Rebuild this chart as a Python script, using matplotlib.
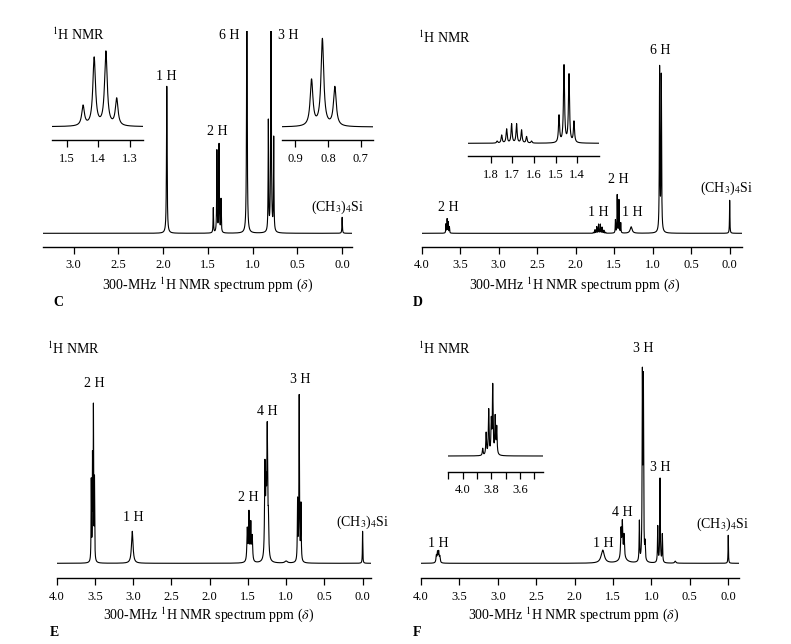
import numpy as np
import matplotlib
matplotlib.use("Agg")
import matplotlib.pyplot as plt

plt.rcParams["font.family"] = ["Liberation Serif", "DejaVu Serif"]
plt.rcParams["mathtext.fontset"] = "stix"

W, H = 791, 644

# peak lists: position (ppm), height, half width (ppm)
# C
c_pos = [1.96, 1.44, 1.40, 1.376, 1.354, 1.065, 0.825, 0.795, 0.765, 0.0]
c_hts = [147, 25, 82, 88, 33, 260, 110, 230, 93, 16]
c_wid = [0.004, 0.003, 0.003, 0.003, 0.003, 0.004, 0.003, 0.004, 0.003, 0.003]
c1_pos = [1.448, 1.413, 1.376, 1.342]
c1_hts = [20, 68, 74, 27]
c2_pos = [0.85, 0.817, 0.779]
c2_hts = [46, 87, 39]

# D
d_pos = [3.685, 3.67, 3.655, 3.64,
         1.77, 1.749, 1.726, 1.703, 1.68, 1.657, 1.634, 1.611,
         1.484, 1.461, 1.438, 1.415, 1.28, 0.91, 0.888, 0.0]
d_hts = [9, 14, 11, 6,
         1, 3.5, 6.5, 9, 9, 6, 3, 1,
         13, 38, 33, 10, 6.5, 163, 155, 33]
d_wid = [0.003] * 16 + [0.015, 0.004, 0.004, 0.003]
d1_pos = [1.77, 1.749, 1.726, 1.703, 1.68, 1.657, 1.634, 1.611,
          1.484, 1.461, 1.438, 1.415]
d1_hts = [2, 8, 14, 19, 19, 13, 6.5, 2, 27, 77, 68, 21]

# E
e_pos = [3.548, 3.532, 3.52, 3.506, 3.012,
         1.508, 1.486, 1.462, 1.443,
         1.277, 1.262, 1.247, 1.232,
         1.0, 0.85, 0.829, 0.806, 0.0]
e_hts = [80, 100, 150, 80, 32,
         32, 48, 37, 24,
         90, 60, 125, 35,
         2, 60, 165, 56, 32]
e_wid = [0.003, 0.003, 0.003, 0.003, 0.012,
         0.006, 0.006, 0.006, 0.006,
         0.006, 0.006, 0.006, 0.006,
         0.02, 0.004, 0.004, 0.004, 0.003]

# F
f_pos = [3.80, 3.785, 3.77, 3.755, 1.634,
         1.37, 1.396, 1.379, 1.357,
         1.157, 1.118, 1.105, 1.083,
         0.918, 0.888, 0.858, 0.69, 0.0]
f_hts = [7, 10, 10.5, 6, 13,
         5, 28, 34, 22,
         40, 180, 175, 16,
         36, 84, 28, 2, 28]
f_wid = [0.006, 0.006, 0.006, 0.006, 0.025,
         0.05, 0.006, 0.006, 0.006,
         0.004, 0.004, 0.004, 0.004,
         0.004, 0.004, 0.004, 0.01, 0.003]
f1_pos = [3.86, 3.836, 3.818, 3.80, 3.79, 3.773, 3.762]
f1_hts = [7, 22, 45, 32, 68, 37, 27]


def trace(x, pos, hts, wid):
    y = np.zeros_like(x)
    for p, h, w in zip(pos, hts, wid):
        y += h / (1 + ((x - p) / w) ** 2)
    return y


def box(l, r, t, b):
    return [l / W, 1 - b / H, (r - l) / W, (b - t) / H]


def panel(rect, xlim, ylim, ticks, pos, hts, wid, minor=None):
    ax = fig.add_axes(rect)
    ax.patch.set_alpha(0)
    x = np.linspace(xlim[0], xlim[1], 30000)
    ax.plot(x, trace(x, pos, hts, wid), color="black", lw=0.8)
    ax.set_xlim(xlim)
    ax.set_ylim(ylim)
    for s in ["left", "right", "top"]:
        ax.spines[s].set_visible(False)
    ax.spines["bottom"].set_linewidth(1.0)
    ax.set_yticks([])
    ax.set_xticks(ticks)
    ax.set_xticklabels([f"{t:.1f}" for t in ticks])
    if minor is not None:
        ax.set_xticks(minor, minor=True)
    ax.tick_params(axis="x", which="both", direction="out", length=5,
                   width=0.9, pad=4, labelsize=9)
    return ax


fig = plt.figure(figsize=(W / 100, H / 100), dpi=100, facecolor="white")

lab = dict(fontsize=10, ha="center", va="center")
tms = r"(CH$_3$)$_4$Si"
xlab = r"300-MHz $^1$H NMR spectrum ppm ($\delta$)"

# ---- C
ax = panel(box(43.3, 352, 31, 246.7), (3.34, -0.11), (-13.4, 202.3),
           [3.0, 2.5, 2.0, 1.5, 1.0, 0.5, 0.0], c_pos, c_hts, c_wid)
ax.text(1.96, 157, "1 H", **lab)
ax.text(1.40, 102, "2 H", **lab)
ax.text(1.15, 198, "6 H", fontsize=10, ha="right", va="center")
ax.text(0.72, 198, "3 H", fontsize=10, ha="left", va="center")
ax.text(0.047, 26, tms, **lab)
panel(box(52.3, 142.7, 40, 140), (1.545, 1.26), (-13.3, 86.7),
      [1.5, 1.4, 1.3], c1_pos, c1_hts, [0.005] * 4)
panel(box(282.3, 373.3, 30, 140), (0.939, 0.662), (-13, 97),
      [0.9, 0.8, 0.7], c2_pos, c2_hts, [0.005] * 3)

# ---- D
ax = panel(box(421.7, 742, 31, 246.7), (4.0, -0.16), (-13.4, 202.3),
           [4.0, 3.5, 3.0, 2.5, 2.0, 1.5, 1.0, 0.5, 0.0], d_pos, d_hts, d_wid)
ax.text(3.66, 26, "2 H", **lab)
ax.text(1.70, 21, "1 H", **lab)
ax.text(1.45, 54, "2 H", **lab)
ax.text(1.26, 21, "1 H", **lab)
ax.text(0.907, 183, "6 H", **lab)
ax.text(0.04, 45, tms, **lab)
panel(box(468.3, 599.3, 55, 156), (1.903, 1.298), (-12.7, 88.3),
      [1.8, 1.7, 1.6, 1.5, 1.4], d1_pos, d1_hts, [0.003] * 12)

# ---- E
ax = panel(box(56.7, 371, 340, 578.3), (4.0, -0.11), (-15, 223.3),
           [4.0, 3.5, 3.0, 2.5, 2.0, 1.5, 1.0, 0.5, 0.0], e_pos, e_hts, e_wid)
ax.text(3.51, 180, "2 H", **lab)
ax.text(3.0, 46, "1 H", **lab)
ax.text(1.50, 66, "2 H", **lab)
ax.text(1.24, 152, "4 H", **lab)
ax.text(0.82, 184, "3 H", **lab)
ax.text(0.0, 41, tms, **lab)

# ---- F
ax = panel(box(421, 739, 340, 578.3), (4.0, -0.14), (-15, 223.3),
           [4.0, 3.5, 3.0, 2.5, 2.0, 1.5, 1.0, 0.5, 0.0], f_pos, f_hts, f_wid)
ax.text(3.77, 20, "1 H", **lab)
ax.text(1.62, 20, "1 H", **lab)
ax.text(1.38, 51, "4 H", **lab)
ax.text(1.11, 215, "3 H", **lab)
ax.text(0.89, 96, "3 H", **lab)
ax.text(0.07, 39, tms, **lab)
panel(box(448.3, 543.3, 375, 471.7), (4.1, 3.437), (-15.7, 81),
      [4.0, 3.8, 3.6], f1_pos, f1_hts, [0.003] * 7,
      minor=[4.1, 3.9, 3.7, 3.5])

# headers, axis titles and panel letters
for x, y in [(52, 35), (418, 38), (47, 349), (418, 349)]:
    fig.text(x / W, 1 - y / H, r"$^1$H NMR", fontsize=10, ha="left", va="center")
for x, y in [(208, 285), (575, 285), (209, 615), (574, 615)]:
    fig.text(x / W, 1 - y / H, xlab, fontsize=10, ha="center", va="center")
for s, x, y in [("C", 53, 302), ("D", 413, 303), ("E", 50, 632), ("F", 413, 633)]:
    fig.text(x / W, 1 - y / H, s, fontsize=10, fontweight="bold",
             ha="left", va="center")

fig.savefig("out.png", dpi=100, facecolor="white")
